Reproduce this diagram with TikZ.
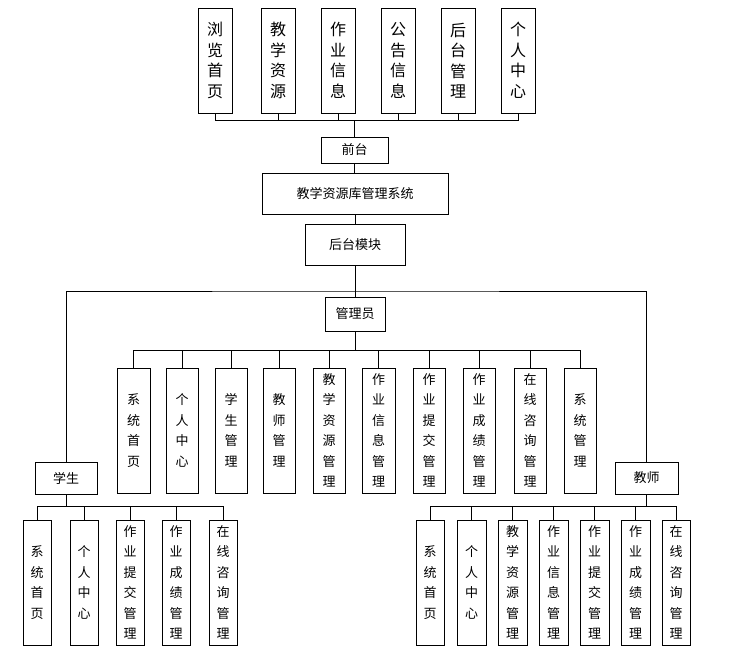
\documentclass[tikz,border=0pt]{standalone}
\usepackage{fontspec}
\setmainfont{Noto Sans CJK SC}
\begin{document}
\begin{tikzpicture}[x=1pt,y=-1pt,
 bx/.style={draw,line width=0.9pt,inner sep=0pt,font=\fontsize{13}{15}\selectfont,align=center},
 vt/.style={font=\fontsize{13}{20.5}\selectfont},
 tp/.style={font=\fontsize{16}{20.5}\selectfont},
 ln/.style={line width=0.9pt}]
\useasboundingbox (0,0) rectangle (738,657);
\newcommand\vb[7][]{\node[bx,#1,minimum width=#3-#2,minimum height=#5-#4] (#2) at ({(#3+#4)/2},{(#5+#6)/2}) {#7};}
\renewcommand\vb[7][]{\node[bx,#1,minimum width=#4-#3,minimum height=#6-#5] (#2) at ({(#3+#4)/2},{(#5+#6)/2}) {#7};}
% top
\vb[tp]{t1}{198}{232}{8}{113}{浏\\览\\首\\页}
\vb[tp]{t2}{261}{295}{8}{113}{教\\学\\资\\源}
\vb[tp]{t3}{321}{355}{8}{113}{作\\业\\信\\息}
\vb[tp]{t4}{381}{415}{8}{113}{公\\告\\信\\息}
\vb[tp]{t5}{441}{475}{8}{113}{后\\台\\管\\理}
\vb[tp]{t6}{501}{535}{8}{113}{个\\人\\中\\心}
\vb{qt}{321}{388}{137}{163}{前台}
\vb{sys}{262}{448}{173}{214}{教学资源库管理系统}
\vb{ht}{305}{405}{224}{265}{后台模块}
\vb{adm}{325}{385}{297}{331}{管理员}
\vb{stu}{35}{97}{462}{494}{学生}
\vb{tea}{615}{678}{462}{494}{教师}
\coordinate (tb) at (355,120);
\draw[ln] (t1.south) |- (t6.south|-tb) -- (t6.south);
\foreach \n in {t2,t3,t4,t5} \draw[ln] (\n.south) -- (\n.south|-tb);
\draw[ln] (qt.north) -- (qt.north|-tb);
\draw[ln] (qt) -- (qt|-sys.north);
\draw[ln] (sys.south-|ht) -- (ht.north);
\draw[ln] (ht.south) -- (ht|-adm.north);
\coordinate (hb) at (355,291);
\draw[ln] (stu.north-|66,0) |- (hb) -| (tea.north-|646,0);
% admin
\coordinate (ab) at (355,350);
\foreach \n/\a/\b/\t in {a1/117/150/{系\\统\\首\\页},a2/166/198/{个\\人\\中\\心},a3/215/247/{学\\生\\管\\理},a4/263/295/{教\\师\\管\\理},a5/313/345/{教\\学\\资\\源\\管\\理},a6/362/395/{作\\业\\信\\息\\管\\理},a7/413/445/{作\\业\\提\\交\\管\\理},a8/463/495/{作\\业\\成\\绩\\管\\理},a9/514/546/{在\\线\\咨\\询\\管\\理},a10/564/596/{系\\统\\管\\理}}
 {\vb[vt]{\n}{\a}{\b}{368}{493}{\t}\draw[ln] (\n.north) -- (\n.north|-ab);}
\draw[ln] (a1.north|-ab) -- (a10.north|-ab);
\draw[ln] (adm.south) -- (adm|-ab);
% student
\coordinate (sb) at (66,506);
\foreach \n/\a/\b/\t in {s1/23/51/{系\\统\\首\\页},s2/70/98/{个\\人\\中\\心},s3/116/144/{作\\业\\提\\交\\管\\理},s4/162/190/{作\\业\\成\\绩\\管\\理},s5/209/237/{在\\线\\咨\\询\\管\\理}}
 {\vb[vt]{\n}{\a}{\b}{520}{645}{\t}\draw[ln] (\n.north) -- (\n.north|-sb);}
\draw[ln] (s1.north|-sb) -- (s5.north|-sb);
\draw[ln] (stu.south-|66,0) -- (sb);
% teacher
\coordinate (eb) at (646,506);
\foreach \n/\a/\b/\t in {e1/416/444/{系\\统\\首\\页},e2/457/486/{个\\人\\中\\心},e3/498/527/{教\\学\\资\\源\\管\\理},e4/539/568/{作\\业\\信\\息\\管\\理},e5/580/609/{作\\业\\提\\交\\管\\理},e6/621/650/{作\\业\\成\\绩\\管\\理},e7/662/690/{在\\线\\咨\\询\\管\\理}}
 {\vb[vt]{\n}{\a}{\b}{520}{645}{\t}\draw[ln] (\n.north) -- (\n.north|-eb);}
\draw[ln] (e1.north|-eb) -- (e7.north|-eb);
\draw[ln] (tea.south-|646,0) -- (eb);
\end{tikzpicture}
\end{document}
